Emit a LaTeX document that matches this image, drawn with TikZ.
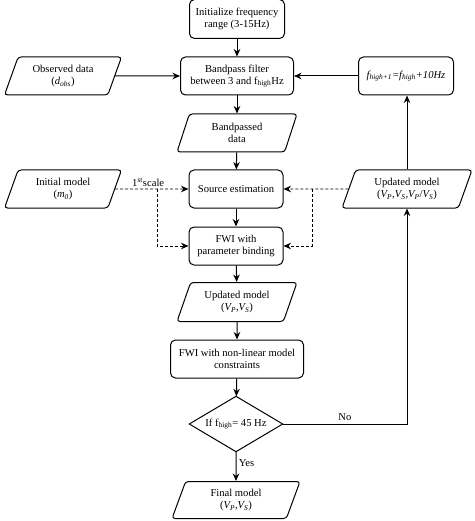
\documentclass[tikz,border=0pt]{standalone}
\usepackage{fontspec}
\setmainfont{Liberation Serif}
\usetikzlibrary{shapes.geometric,arrows.meta}
\begin{document}
\begin{tikzpicture}[x=1pt,y=-1pt,
  font=\fontsize{10.6}{12}\selectfont,
  box/.style={draw,line width=1pt,rounded corners=5pt,align=center,inner sep=1pt},
  para/.style={draw,line width=1pt,trapezium,trapezium left angle=60,trapezium right angle=120,
     trapezium stretches body,rounded corners=3pt,align=center,inner sep=1pt,minimum height=38pt},
  arr/.style={line width=1pt,-{Stealth[length=7.5pt,width=6.5pt]}},
  darr/.style={line width=0.9pt,dash pattern=on 3pt off 2pt,-{Stealth[length=7.5pt,width=6.5pt]}},
  dline/.style={line width=0.9pt,dash pattern=on 3pt off 2pt}]
\useasboundingbox (0,0) rectangle (474,521);

\node[box,minimum width=95pt,minimum height=39pt] (init) at (237,19) {Initialize frequency\\range (3-15Hz)};
\node[box,minimum width=113pt,minimum height=38pt] (bpf) at (237,76) {Bandpass filter\\between 3 and f\textsubscript{high}Hz};
\node[para,minimum width=117pt] (obs) at (63,76) {Observed data\\(\textit{d\textsubscript{obs}})};
\node[box,minimum width=95pt,minimum height=38pt] (fh) at (406,76) {\textit{f\textsubscript{high+1}=f\textsubscript{high}+10Hz}};
\node[para,minimum width=120pt] (bpd) at (237,133) {Bandpassed\\data};
\node[box,minimum width=94pt,minimum height=38pt] (src) at (236,189) {Source estimation};
\node[para,minimum width=117pt] (im) at (63,189) {Initial model\\(\textit{m\textsubscript{0}})};
\node[para,minimum width=130pt] (ur) at (407,189) {Updated model\\(\textit{V\textsubscript{P}},\textit{V\textsubscript{S}},\textit{V\textsubscript{P}}/\textit{V\textsubscript{S}})};
\node[box,minimum width=94pt,minimum height=38pt] (fwa) at (236,246) {FWI with\\parameter binding};
\node[para,minimum width=120pt,minimum height=39pt] (upd) at (237,302) {Updated model\\(\textit{V\textsubscript{P}},\textit{V\textsubscript{S}})};
\node[box,minimum width=133pt,minimum height=38pt] (fwb) at (237,359) {FWI with non-linear model\\constraints};
\node[minimum width=93pt,minimum height=55pt,inner sep=0pt] (dia) at (236,424) {If f\textsubscript{high}= 45 Hz};
\draw[line width=1pt] (dia.north) -- (dia.east) -- (dia.south) -- (dia.west) -- cycle;
\node[para,minimum width=128pt,minimum height=37pt] (fin) at (236,500) {Final model\\(\textit{V\textsubscript{P}},\textit{V\textsubscript{S}})};

\draw[arr] (init) -- (bpf);
\draw[arr] (obs) -- (bpf);
\draw[arr] (fh) -- (bpf);
\draw[arr] (bpf) -- (bpd);
\draw[arr] (bpd) -- (src);
\draw[arr] (src) -- (fwa);
\draw[arr] (fwa) -- (upd);
\draw[arr] (upd) -- (fwb);
\draw[arr] (fwb) -- (dia);
\draw[arr] (dia.south) -- node[right=-1pt,pos=0.4] {Yes} (fin);
\draw[arr] (dia.east) -- node[above,pos=0.5] {No} (dia.east -| ur.south) -- (ur.south);
\draw[arr] (ur.north) -- (ur.north |- fh.south);

\coordinate (lj) at (157,189);
\coordinate (rj) at (312,189);
\draw[darr] (im.east) -- node[above=-1pt,pos=0.45] {1\textsuperscript{st}scale} (src.west);
\draw[darr] (lj) |- (fwa.west);
\draw[darr] (ur.west) -- (src.east);
\draw[darr] (rj) |- (fwa.east);
\end{tikzpicture}
\end{document}
